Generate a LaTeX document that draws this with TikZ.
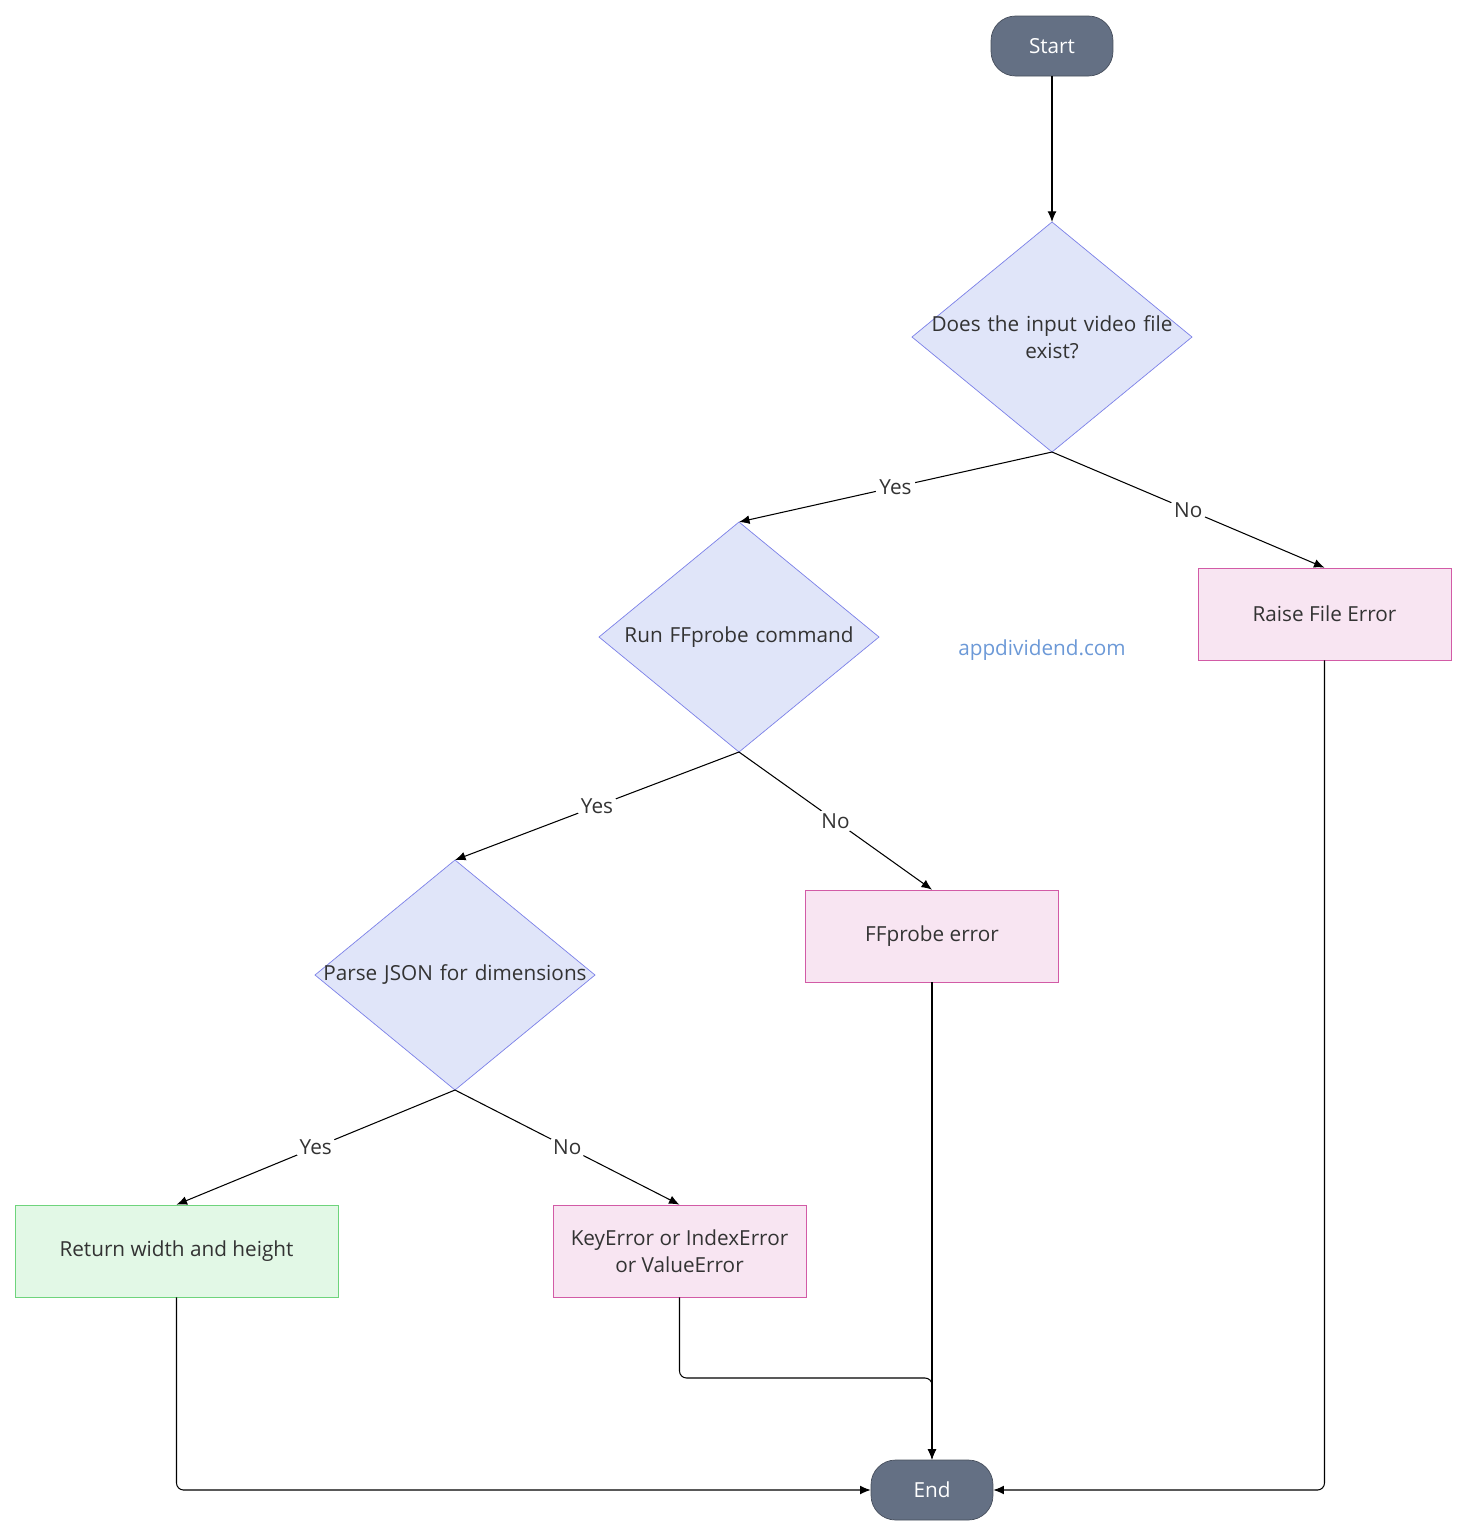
\documentclass[tikz,border=0pt]{standalone}
\usepackage{fontspec}
\setmainfont{Open Sans}
\usetikzlibrary{arrows.meta}
\definecolor{pill}{HTML}{647084}
\definecolor{dfill}{HTML}{E0E5F9}
\definecolor{dline}{HTML}{7B80E8}
\definecolor{pfill}{HTML}{F8E5F2}
\definecolor{pline}{HTML}{D25BA6}
\definecolor{gfill}{HTML}{E2F8E6}
\definecolor{gline}{HTML}{6ED47C}
\definecolor{txt}{HTML}{333333}
\begin{document}
\begin{tikzpicture}[x=0.02cm,y=-0.02cm,
  every node/.style={font=\fontsize{11.8}{15.5}\selectfont, text=txt},
  term/.style={rounded corners=14pt, fill=pill, draw=pill!70!black, text=white, minimum width=2.44cm, minimum height=1.2cm, inner sep=0pt},
  dshape/.style={fill=dfill, draw=dline},
  dtext/.style={align=center, text width=5.5cm, inner sep=0pt},
  err/.style={rectangle, fill=pfill, draw=pline, minimum width=5.06cm, minimum height=1.84cm, align=center},
  ok/.style={rectangle, fill=gfill, draw=gline, minimum width=6.46cm, minimum height=1.84cm, align=center},
  arr/.style={-{Latex[length=6pt,width=5pt]}, black, line width=0.6pt, rounded corners=4pt},
  lab/.style={fill=white, inner sep=2pt}]
\useasboundingbox (0,0) rectangle (1467,1536);
\node[term] (start) at (1052,46) {Start};
% diamonds
\foreach \n/\x/\y in {d1/1052/337, d2/739/637, d3/455/975}{
  \draw[dshape] (\x,\y-115) -- (\x+140,\y) -- (\x,\y+115) -- (\x-140,\y) -- cycle;
  \coordinate (\n t) at (\x,\y-115);
  \coordinate (\n b) at (\x,\y+115);
}
\node[dtext] (d1) at (1052,337) {Does the input video file\\exist?};
\node[dtext] (d2) at (739,637) {Run FFprobe command};
\node[dtext] (d3) at (455,975) {Parse JSON for dimensions};
\node[err] (rfe) at (1324.5,614) {Raise File Error};
\node[err] (ffe) at (932,936) {FFprobe error};
\node[err] (ke) at (679.5,1251) {KeyError or IndexError\\or ValueError};
\node[ok] (ret) at (176.5,1251) {Return width and height};
\node[term] (end) at (932,1490) {End};
\node[text=cyan!50!blue!60] (wm) at (1042,650) {appdividend.com};
\coordinate (j) at (932,1378);
\draw[arr] (start) -- (d1t);
\draw[arr] (d1b) -- node[lab,pos=0.5]{Yes} (d2t);
\draw[arr] (d1b) -- node[lab,pos=0.5]{No} (rfe.north);
\draw[arr] (d2b) -- node[lab,pos=0.5]{Yes} (d3t);
\draw[arr] (d2b) -- node[lab,pos=0.5]{No} (ffe.north);
\draw[arr] (d3b) -- node[lab,pos=0.5]{Yes} (ret.north);
\draw[arr] (d3b) -- node[lab,pos=0.5]{No} (ke.north);
\draw[arr] (ret.south) |- (end.west);
\draw[arr] (rfe.south) |- (end.east);
\draw[arr] (ffe.south) -- (end.north);
\draw[arr] (ke.south) |- (j) -- (end.north);
\end{tikzpicture}
\end{document}
